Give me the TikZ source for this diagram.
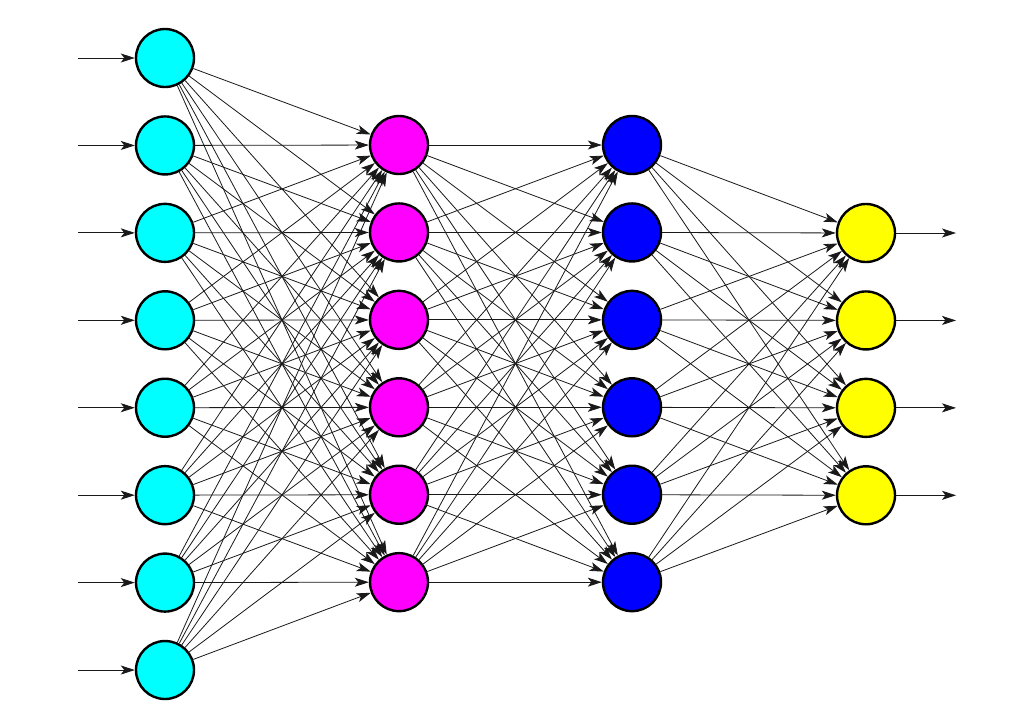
\documentclass[tikz,border=0pt]{standalone}
\usetikzlibrary{arrows.meta}
\definecolor{ncyan}{RGB}{0,255,255}
\definecolor{nmag}{RGB}{255,0,255}
\definecolor{nblue}{RGB}{0,0,255}
\definecolor{nyel}{RGB}{255,255,0}
\begin{document}
\begin{tikzpicture}[x=1pt,y=-1pt,
  neuron/.style={circle,draw=black,line width=2.4pt,minimum size=58pt,inner sep=0pt},
  inl/.style={neuron,fill=ncyan},
  h1l/.style={neuron,fill=nmag},
  h2l/.style={neuron,fill=nblue},
  outl/.style={neuron,fill=nyel},
  conn/.style={draw=black!90,line width=0.8pt,-{Stealth[length=14pt,width=9pt,inset=3.5pt]}}]
\fill[white] (0,0) rectangle (1024,724);
\useasboundingbox (0,0) rectangle (1024,724);
\foreach \i in {1,...,8} \node[inl] (I\i) at (165,{58+87.43*(\i-1)}) {};
\foreach \i in {1,...,6} \node[h1l] (A\i) at (399,{145+87.43*(\i-1)}) {};
\foreach \i in {1,...,6} \node[h2l] (B\i) at (632,{145+87.43*(\i-1)}) {};
\foreach \i in {1,...,4} \node[outl] (O\i) at (866,{233+87.43*(\i-1)}) {};
\foreach \i in {1,...,8} {
  \coordinate (s\i) at (78,{58+87.43*(\i-1)});
  \draw[conn] (s\i) -- (I\i);
}
\foreach \i in {1,...,4} {
  \coordinate (t\i) at (956,{233+87.43*(\i-1)});
  \draw[conn] (O\i) -- (t\i);
}
\foreach \i in {1,...,8} \foreach \j in {1,...,6} \draw[conn] (I\i) -- (A\j);
\foreach \i in {1,...,6} \foreach \j in {1,...,6} \draw[conn] (A\i) -- (B\j);
\foreach \i in {1,...,6} \foreach \j in {1,...,4} \draw[conn] (B\i) -- (O\j);
\end{tikzpicture}
\end{document}
